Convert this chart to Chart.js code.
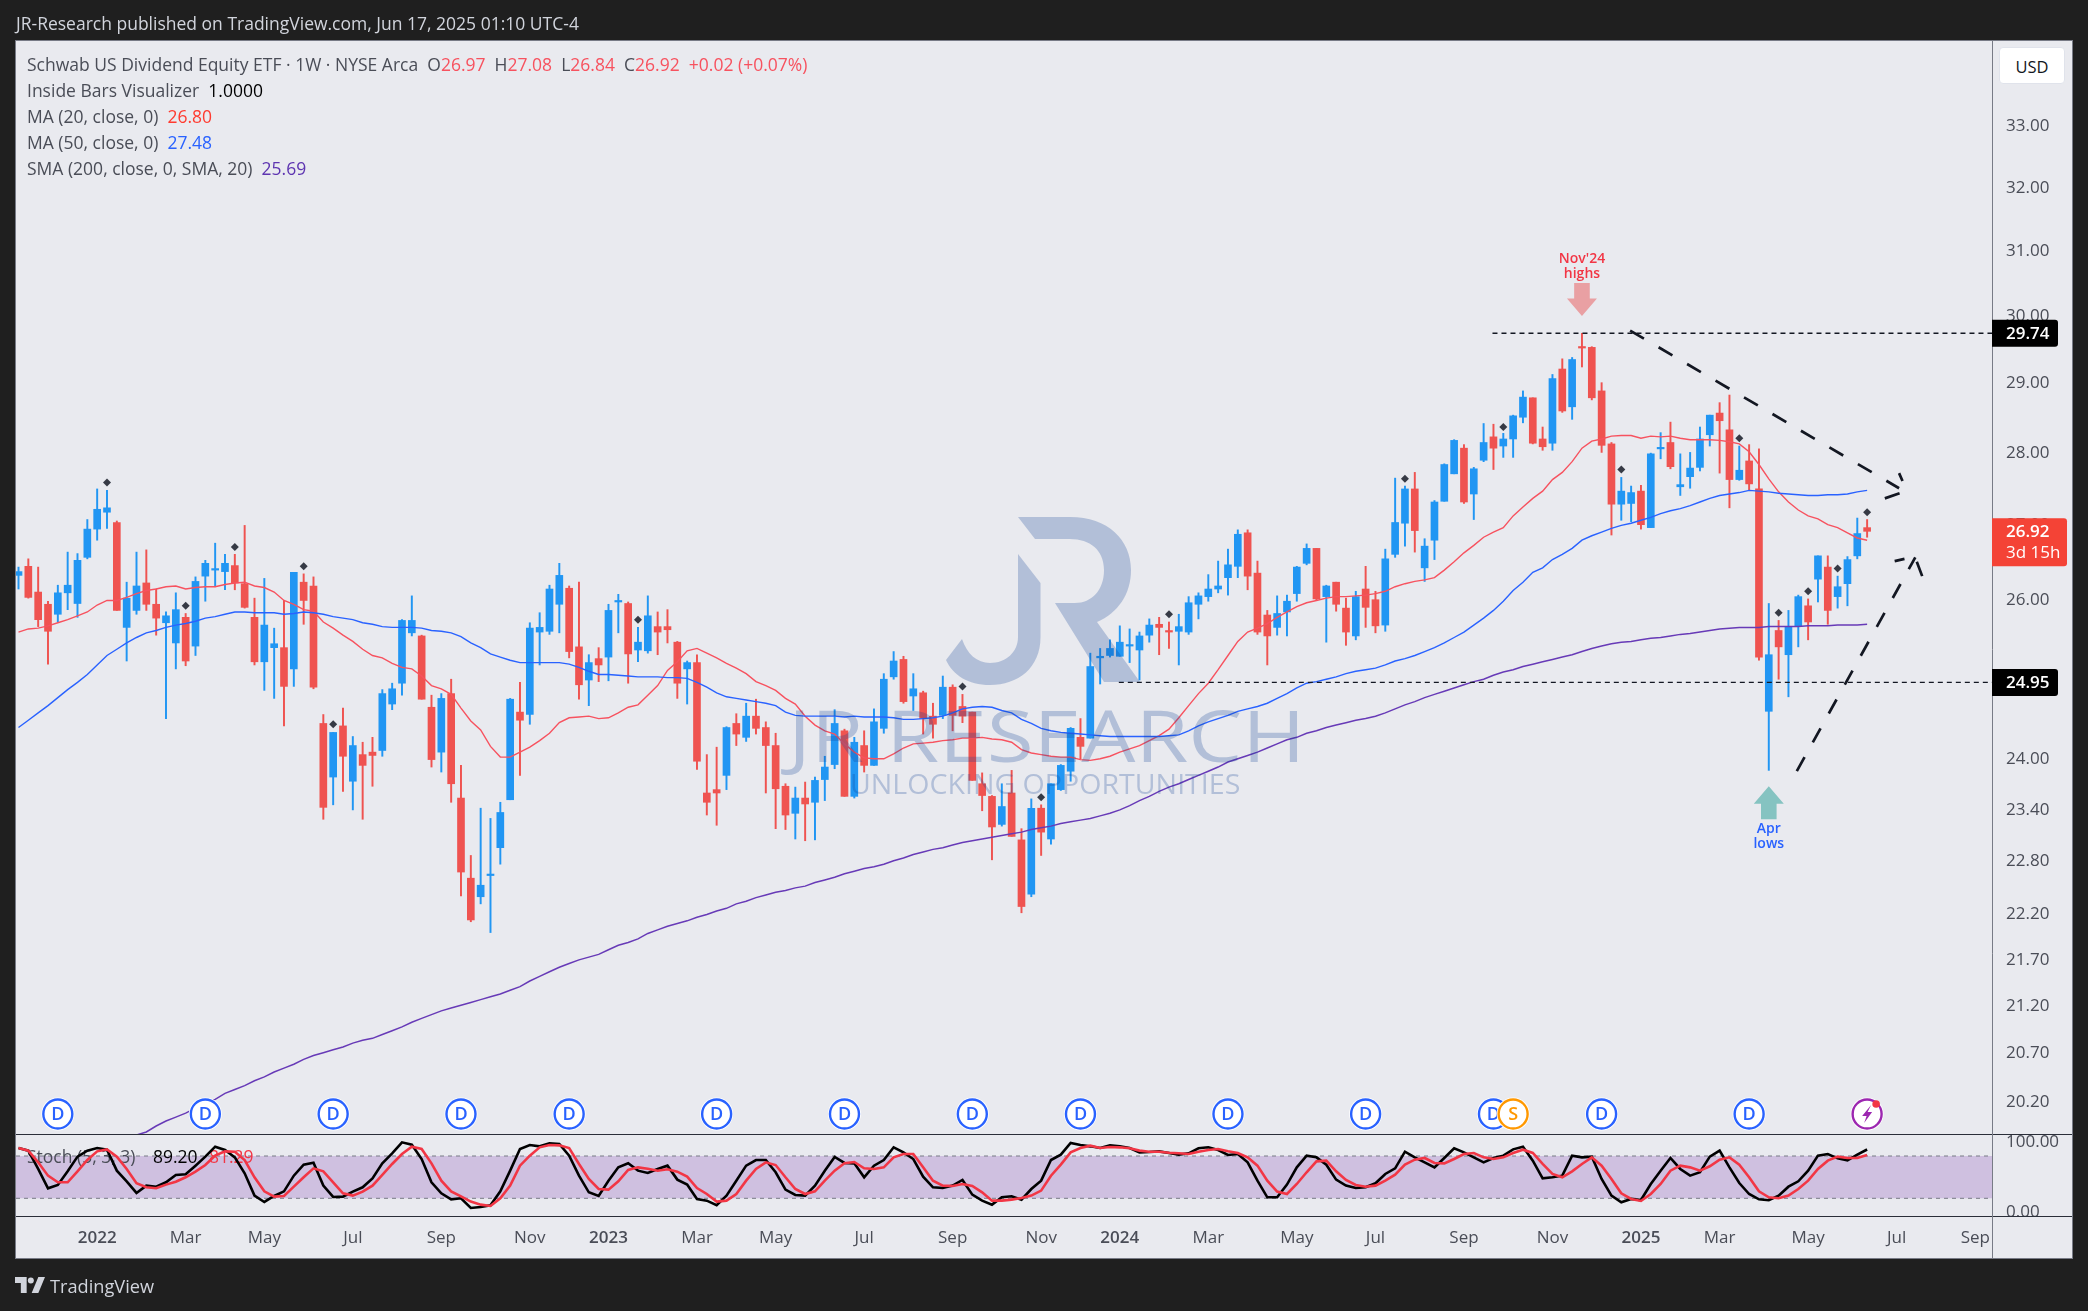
<!DOCTYPE html>
<html>
<head>
<meta charset="utf-8">
<title>SCHD weekly</title>
<script src="https://cdn.jsdelivr.net/npm/chart.js@4"></script>
<style>
  html, body { margin: 0; padding: 0; background: #1f1f1f; }
  body { width: 2088px; height: 1311px; position: relative; overflow: hidden; font-family: "Open Sans", sans-serif; }
  canvas { position: absolute; left: 0; top: 0; }
  .txt { position: absolute; white-space: pre; line-height: 20px; font-size: 17.5px; }
  .leg { color: #4a4d57; left: 27px; }
  .red { color: #f7525f; }
  #publisher { left: 16px; top: 13px; color: #d1d4dc; }
  #brand { left: 50px; top: 1276px; color: #d1d4dc; font-size: 18.2px; }
  #logo { position: absolute; left: 15px; top: 1277px; }
  #usd { position: absolute; left: 1999px; top: 47px; width: 66px; height: 37px; line-height: 37px; background: #fff; border: 1px solid #e0e3eb; border-radius: 4px; box-sizing: border-box; text-align: center; color: #131722; font-size: 16.5px; }
</style>
</head>
<body>
<canvas id="chart" width="2088" height="1311"></canvas>
<div class="txt" id="publisher">JR-Research published on TradingView.com, Jun 17, 2025 01:10 UTC-4</div>
<div class="txt leg" style="top:54px">Schwab US Dividend Equity ETF · 1W · NYSE Arca  O<span class="red">26.97</span>  H<span class="red">27.08</span>  L<span class="red">26.84</span>  C<span class="red">26.92</span>  <span class="red">+0.02 (+0.07%)</span></div>
<div class="txt leg" style="top:80px">Inside Bars Visualizer  <span style="color:#000">1.0000</span></div>
<div class="txt leg" style="top:106px">MA (20, close, 0)  <span style="color:#ff3b30">26.80</span></div>
<div class="txt leg" style="top:132px">MA (50, close, 0)  <span style="color:#2962ff">27.48</span></div>
<div class="txt leg" style="top:158px">SMA (200, close, 0, SMA, 20)  <span style="color:#5e35b1">25.69</span></div>
<div id="usd">USD</div>
<svg id="logo" width="30" height="16" viewBox="0 0 36 19"><path fill="#d1d4dc" d="M0 0h14v19H7V7H0z"/><circle cx="19" cy="4" r="3.6" fill="#d1d4dc"/><path fill="#d1d4dc" d="M28 0h8l-8 19h-8z"/></svg>
<div class="txt" id="brand">TradingView</div>

<script>
// weekly bars, index 0 = 8 Nov 2021, last one = 16 Jun 2025
const opens = [
  26.33,26.45,26.11,25.95,25.82,26.10,25.96,26.57,26.95,27.18,
  27.04,25.65,25.87,26.23,25.95,25.71,25.45,25.78,25.41,26.32,
  26.40,26.38,26.46,26.22,25.78,25.21,25.39,25.39,25.12,26.24,
  26.19,24.44,23.79,24.41,23.74,24.06,24.09,24.11,24.68,24.94,
  25.58,25.54,24.64,24.09,24.81,23.54,22.61,22.40,22.64,22.96,
  23.52,24.58,24.55,25.59,25.60,25.95,26.16,25.40,24.98,25.25,
  25.27,25.98,25.96,25.36,25.35,25.66,25.66,25.46,25.12,25.20,
  23.60,23.64,23.81,24.44,24.27,24.53,24.39,24.17,23.68,23.36,
  23.54,23.49,23.76,23.94,24.35,23.56,24.17,23.93,24.38,25.02,
  25.24,24.78,24.82,24.53,24.54,24.89,24.65,24.58,23.71,23.56,
  23.23,23.60,23.05,22.43,23.42,23.06,23.64,23.86,24.27,24.26,
  25.26,25.29,25.28,25.41,25.36,25.55,25.69,25.60,25.60,25.59,
  25.95,26.05,26.15,26.30,26.45,26.90,26.36,25.81,25.65,25.85,
  26.09,26.49,26.69,26.05,26.24,25.90,25.54,26.15,26.01,25.68,
  26.61,27.03,27.50,26.43,26.80,27.33,27.71,28.07,27.43,27.90,
  28.23,28.10,28.20,28.51,28.79,28.20,28.14,29.21,28.66,29.54,
  29.53,28.89,28.13,27.29,27.30,27.47,26.97,28.06,28.15,27.53,
  27.67,27.80,28.26,28.57,28.33,27.63,27.89,27.50,24.59,25.61,
  25.30,25.67,25.93,26.28,26.44,26.05,26.22,26.59,26.97
];
const closes = [
  26.38,26.04,25.75,25.60,26.10,26.20,26.53,26.95,27.22,27.24,
  25.87,26.03,26.19,25.95,25.77,25.80,25.88,25.22,26.25,26.49,
  26.41,26.49,26.23,25.91,25.21,25.68,25.44,24.90,26.37,26.00,
  24.89,23.43,24.33,24.04,24.17,23.93,24.05,24.81,24.87,25.74,
  25.74,24.74,24.00,24.75,23.71,22.68,22.14,22.53,22.65,23.37,
  24.74,24.48,25.64,25.65,26.15,26.33,25.34,24.92,25.20,25.17,
  25.87,25.99,25.31,25.46,25.80,25.59,25.62,24.94,25.20,23.98,
  23.49,23.60,24.39,24.31,24.53,24.38,24.17,23.65,23.34,23.54,
  23.47,23.75,23.91,24.44,23.56,24.21,23.93,24.46,24.99,25.22,
  24.71,24.87,24.50,24.43,24.89,24.54,24.53,23.75,23.57,23.20,
  23.44,23.09,22.29,23.42,23.14,23.71,23.93,24.38,24.16,25.15,
  25.28,25.38,25.46,25.42,25.54,25.68,25.65,25.59,25.66,25.97,
  26.06,26.15,26.19,26.47,26.88,26.32,25.59,25.54,25.83,25.99,
  26.44,26.69,26.02,26.19,25.95,25.59,26.05,25.91,25.67,26.55,
  27.04,27.50,26.93,26.72,27.32,27.84,28.18,27.32,27.78,28.15,
  28.07,28.20,28.53,28.80,28.14,28.09,29.07,28.60,29.35,29.52,
  28.79,28.11,27.29,27.47,27.45,27.01,27.99,28.07,27.81,27.56,
  27.79,28.20,28.54,28.46,27.63,27.76,27.57,25.27,25.30,25.40,
  25.66,26.05,25.72,26.59,25.87,26.18,26.54,26.89,26.92
];
const highs = [
  26.44,26.55,26.44,25.99,26.20,26.64,26.62,27.08,27.50,27.48,
  27.06,26.24,26.64,26.67,26.15,25.85,26.10,25.83,26.31,26.53,
  26.76,26.61,26.61,27.00,26.03,26.29,25.64,26.00,26.37,26.35,
  26.31,24.55,24.33,24.63,24.28,24.21,24.27,24.86,24.94,25.75,
  26.06,25.55,24.79,24.81,24.99,23.93,22.87,23.42,23.30,23.49,
  24.75,24.95,25.71,25.84,26.20,26.49,26.19,26.24,25.30,25.39,
  25.95,26.08,25.98,25.65,26.06,25.85,25.88,25.47,25.22,25.30,
  24.06,24.15,24.40,24.56,24.69,24.74,24.46,24.32,23.71,23.67,
  23.73,23.79,24.04,24.61,24.37,24.27,24.35,24.62,25.06,25.34,
  25.28,25.06,24.84,24.69,25.03,24.92,24.80,24.58,23.84,23.57,
  23.71,23.87,23.18,23.53,23.46,23.71,23.94,24.39,24.50,25.32,
  25.38,25.49,25.67,25.63,25.59,25.76,25.78,25.72,25.82,26.05,
  26.10,26.34,26.52,26.68,26.94,26.94,26.52,25.87,26.06,26.07,
  26.45,26.75,26.69,26.20,26.24,26.03,26.12,26.45,26.12,26.68,
  27.65,27.54,27.73,26.82,27.34,27.85,28.19,28.12,27.80,28.42,
  28.41,28.28,28.54,28.89,28.79,28.37,29.13,29.36,29.38,29.74,
  29.54,29.01,28.15,27.66,27.54,27.55,28.00,28.29,28.44,27.99,
  28.01,28.37,28.54,28.72,28.83,28.10,28.12,28.06,25.96,25.74,
  25.87,26.07,26.02,26.59,26.59,26.32,26.58,27.10,27.08
];
const lows = [
  26.15,26.03,25.66,25.18,25.72,25.88,25.78,26.55,26.80,26.96,
  25.87,25.22,25.82,25.87,25.55,24.50,25.12,25.16,25.29,25.99,
  26.18,26.14,26.14,25.90,25.17,24.85,24.75,24.41,24.90,25.69,
  24.87,23.29,23.46,23.62,23.40,23.29,23.68,24.04,24.61,24.79,
  25.54,24.74,23.91,23.85,23.49,22.41,22.12,22.32,22.00,22.77,
  23.52,23.81,24.43,25.17,25.56,25.58,25.26,24.74,24.66,24.96,
  24.97,25.58,24.94,25.21,25.32,25.30,25.45,24.75,24.68,23.88,
  23.34,23.22,23.64,24.17,24.22,24.31,23.60,23.18,23.17,23.06,
  23.04,23.05,23.51,23.89,23.56,23.54,23.85,23.93,24.32,24.99,
  24.69,24.60,24.31,24.26,24.50,24.35,24.45,23.75,23.39,22.82,
  23.21,23.09,22.22,22.40,22.87,23.00,23.63,23.74,24.01,24.26,
  24.93,25.27,25.28,25.20,24.98,25.46,25.30,25.38,25.17,25.56,
  25.76,25.99,26.10,26.07,26.30,26.14,25.56,25.17,25.55,25.54,
  25.99,26.47,26.01,25.46,25.86,25.42,25.49,25.65,25.58,25.60,
  26.57,26.72,26.64,26.25,26.54,27.33,27.71,27.30,27.08,27.88,
  27.77,27.94,27.94,28.43,28.13,28.04,28.04,28.58,28.48,29.24,
  28.76,28.01,26.87,27.07,27.05,26.95,26.97,27.92,27.78,27.41,
  27.51,27.75,28.10,27.72,27.24,27.62,27.48,25.23,23.87,24.99,
  24.77,25.40,25.49,25.98,25.69,25.90,25.93,26.55,26.84
];
const ma20 = [
  25.59,25.63,25.64,25.67,25.71,25.75,25.80,25.85,25.94,26.00,
  26.00,26.04,26.09,26.13,26.15,26.18,26.19,26.15,26.17,26.18,
  26.18,26.21,26.23,26.24,26.19,26.17,26.11,26.00,25.95,25.88,
  25.86,25.72,25.64,25.55,25.47,25.37,25.29,25.26,25.19,25.14,
  25.12,25.03,24.91,24.87,24.80,24.63,24.47,24.36,24.16,24.03,
  24.03,24.09,24.15,24.23,24.32,24.45,24.51,24.52,24.53,24.50,
  24.51,24.57,24.64,24.67,24.79,24.91,25.10,25.21,25.35,25.38,
  25.32,25.26,25.19,25.13,25.06,24.96,24.91,24.85,24.75,24.68,
  24.53,24.42,24.35,24.31,24.19,24.09,24.02,24.01,24.01,24.07,
  24.14,24.19,24.20,24.21,24.23,24.24,24.26,24.26,24.27,24.25,
  24.24,24.21,24.12,24.08,24.06,24.04,24.03,24.03,24.00,23.99,
  24.01,24.04,24.09,24.13,24.17,24.23,24.29,24.37,24.51,24.66,
  24.81,24.94,25.11,25.29,25.47,25.59,25.64,25.70,25.78,25.85,
  25.92,25.97,26.00,26.03,26.05,26.05,26.06,26.07,26.09,26.12,
  26.18,26.22,26.25,26.27,26.30,26.40,26.51,26.63,26.73,26.84,
  26.91,26.97,27.13,27.25,27.37,27.47,27.63,27.73,27.88,28.07,
  28.17,28.20,28.24,28.25,28.25,28.21,28.24,28.23,28.24,28.21,
  28.19,28.19,28.19,28.18,28.16,28.13,28.02,27.84,27.64,27.46,
  27.32,27.21,27.13,27.09,27.01,26.97,26.90,26.83,26.80
];
const ma50 = [
  24.39,24.48,24.57,24.66,24.76,24.86,24.95,25.05,25.17,25.29,
  25.37,25.45,25.52,25.58,25.61,25.65,25.68,25.70,25.73,25.77,
  25.79,25.82,25.85,25.85,25.84,25.84,25.84,25.82,25.83,25.85,
  25.84,25.82,25.79,25.77,25.75,25.71,25.69,25.66,25.65,25.65,
  25.65,25.64,25.61,25.60,25.58,25.53,25.45,25.39,25.31,25.27,
  25.23,25.20,25.20,25.20,25.20,25.20,25.18,25.14,25.09,25.05,
  25.05,25.04,25.03,25.02,25.02,25.02,25.01,25.01,25.00,24.95,
  24.89,24.82,24.77,24.75,24.73,24.71,24.69,24.66,24.58,24.54,
  24.53,24.53,24.53,24.53,24.52,24.53,24.52,24.52,24.52,24.51,
  24.49,24.49,24.50,24.51,24.53,24.57,24.62,24.64,24.65,24.64,
  24.60,24.57,24.49,24.44,24.38,24.35,24.33,24.32,24.31,24.30,
  24.29,24.28,24.28,24.28,24.28,24.28,24.28,24.29,24.30,24.35,
  24.41,24.46,24.50,24.54,24.59,24.62,24.65,24.69,24.75,24.81,
  24.88,24.94,24.96,24.99,25.02,25.06,25.09,25.11,25.13,25.17,
  25.22,25.25,25.29,25.34,25.39,25.45,25.52,25.59,25.68,25.77,
  25.87,25.99,26.13,26.24,26.37,26.43,26.54,26.61,26.69,26.80,
  26.86,26.91,26.96,27.00,27.03,27.07,27.11,27.16,27.20,27.23,
  27.27,27.32,27.37,27.41,27.43,27.45,27.48,27.47,27.46,27.44,
  27.43,27.42,27.41,27.41,27.42,27.42,27.43,27.46,27.48
];
// the 200 line comes into the pane at bar 12
const sma200Start = 12;
const sma200 = [
  19.87,19.90,19.96,20.01,20.05,20.09,20.14,20.18,
  20.23,20.29,20.33,20.37,20.42,20.46,20.51,20.55,20.59,20.64,
  20.68,20.71,20.74,20.77,20.81,20.84,20.86,20.90,20.94,20.98,
  21.03,21.07,21.11,21.15,21.18,21.21,21.24,21.27,21.30,21.33,
  21.37,21.41,21.47,21.52,21.57,21.62,21.66,21.70,21.73,21.76,
  21.81,21.86,21.89,21.93,21.99,22.03,22.07,22.10,22.13,22.17,
  22.20,22.24,22.27,22.32,22.35,22.39,22.42,22.45,22.47,22.50,
  22.52,22.56,22.59,22.62,22.66,22.69,22.72,22.74,22.77,22.81,
  22.84,22.88,22.91,22.94,22.96,22.99,23.02,23.04,23.06,23.08,
  23.10,23.12,23.14,23.17,23.19,23.21,23.24,23.26,23.28,23.30,
  23.33,23.36,23.40,23.45,23.51,23.56,23.62,23.67,23.71,23.76,
  23.81,23.86,23.91,23.97,24.01,24.05,24.09,24.14,24.19,24.24,
  24.27,24.32,24.35,24.39,24.42,24.45,24.48,24.50,24.53,24.57,
  24.62,24.67,24.71,24.76,24.80,24.84,24.88,24.92,24.96,24.99,
  25.04,25.08,25.11,25.15,25.18,25.21,25.24,25.27,25.30,25.34,
  25.38,25.41,25.44,25.46,25.47,25.49,25.51,25.52,25.54,25.56,
  25.57,25.59,25.61,25.63,25.64,25.65,25.65,25.65,25.66,25.66,
  25.66,25.66,25.67,25.67,25.67,25.68,25.68,25.68,25.69
];
const stochK = [
  91.3,87.6,61.6,34.2,38.9,58.3,79.1,87.6,91.3,89.0,
  59.2,44.1,27.6,38.0,36.5,42.7,53.1,54.0,66.3,79.1,
  93.2,88.5,78.1,55.4,23.8,14.8,23.3,29.9,52.1,67.7,
  70.6,38.0,21.9,22.4,29.5,35.6,48.3,69.6,83.8,99.4,
  96.1,75.7,42.7,27.1,18.6,20.0,6.3,7.7,10.1,29.9,
  59.2,89.9,95.6,93.7,98.0,97.0,80.5,52.1,28.5,23.3,
  45.0,63.9,69.6,59.2,55.9,61.6,66.3,46.5,39.4,19.1,
  16.7,10.1,23.8,45.0,66.3,74.3,74.3,56.9,32.3,24.7,
  23.8,38.0,59.2,78.6,70.1,69.6,49.8,66.3,74.3,92.3,
  85.2,75.7,50.7,35.6,34.6,38.0,46.0,25.2,16.7,11.0,
  21.4,22.8,18.1,33.2,45.0,74.3,81.9,98.4,95.6,93.7,
  91.3,95.1,93.7,91.3,85.2,85.7,86.6,84.3,81.9,83.8,
  90.9,92.3,88.5,81.4,82.8,71.0,45.0,21.4,21.4,39.4,
  63.9,80.5,78.1,67.7,46.5,38.0,34.6,35.6,41.3,54.5,
  62.5,86.1,78.1,71.0,63.9,77.2,90.9,85.2,78.1,71.0,
  77.2,80.5,89.4,93.2,73.4,48.3,49.8,52.1,80.5,78.1,
  79.1,47.4,23.8,14.3,19.1,17.6,40.3,59.2,77.2,61.6,
  52.1,56.9,79.1,87.6,63.9,41.7,26.1,18.6,17.2,23.8,
  36.5,44.1,59.2,80.5,82.8,76.7,73.9,81.9,89.2
];
const stochD = [
  91.3,87.6,71.0,52.1,42.7,42.7,58.3,74.3,86.6,89.4,
  79.1,61.6,41.3,35.6,34.2,39.4,43.6,49.8,57.8,67.2,
  80.5,86.6,86.1,74.3,49.8,29.9,22.4,23.3,36.5,49.8,
  62.5,58.3,42.7,27.1,23.8,29.5,38.0,53.1,68.7,82.8,
  93.2,89.9,69.6,45.0,29.9,22.8,15.3,11.0,9.1,20.0,
  38.0,66.3,80.5,92.3,95.6,95.1,91.3,68.7,47.4,33.2,
  32.3,44.1,60.2,63.9,62.0,59.2,61.1,57.8,50.7,34.6,
  26.1,15.3,16.7,26.1,45.0,61.6,71.0,67.2,49.8,33.2,
  26.1,29.9,45.0,59.2,69.6,71.5,62.5,61.6,63.9,78.1,
  82.8,82.8,63.9,45.0,38.0,37.5,40.3,37.5,28.5,16.7,
  16.7,18.1,20.5,23.8,30.9,52.1,67.7,85.2,91.3,94.6,
  91.3,92.8,92.3,90.9,87.6,86.1,86.1,84.7,83.8,82.8,
  86.1,88.5,89.9,86.6,84.3,78.1,66.3,45.0,29.5,26.1,
  40.3,56.9,72.4,73.4,58.3,46.0,38.9,36.5,38.0,45.0,
  53.5,67.7,74.8,77.2,70.1,69.6,75.7,82.8,84.3,78.1,
  75.7,78.1,84.3,89.0,84.3,68.7,54.5,49.8,58.3,68.7,
  78.1,66.3,47.4,27.1,19.1,16.2,26.1,40.3,59.2,66.3,
  63.9,59.2,65.4,74.8,78.1,67.7,49.8,29.9,21.4,20.0,
  23.8,33.2,45.0,61.6,73.4,79.1,77.2,77.2,81.29
];

// inside bar markers
const insideIdx = [9,17,22,29,32,63,96,104,117,141,151,163,175,179,182,185,188];
const insideVal = [27.59,25.93,26.71,26.45,24.43,25.75,24.90,23.55,25.82,27.64,28.37,27.77,28.21,25.84,26.12,26.42,27.18];

// drawn levels and trend lines (bar index, price)
const highLevelIdx = [149.9, 200.7];
const highLevelVal = [29.74, 29.74];
const lowLevelIdx = [111.9, 200.7];
const lowLevelVal = [24.95, 24.95];
const trendDownIdx = [163.9, 191.25];
const trendDownVal = [29.78, 27.51];
const trendUpIdx = [180.85, 192.9];
const trendUpVal = [23.86, 26.57];
const arrowBitsIdx = [191.25,191.6,null,189.8,191.3,null,190.8,191.8,null,193.05,193.6];
const arrowBitsVal = [27.72,27.61,null,27.37,27.44,null,26.52,26.55,null,26.51,26.32];

// axes
const priceTicks = [33,32,31,30,29,28,27,26,25,24,23.4,22.8,22.2,21.7,21.2,20.7,20.2];
const stochTicks = [100, 0];
const stochBandIdx = [-0.254, 200.7];
const stochUpper = [80, 80];
const stochLower = [20, 20];
const timeTickIdx = [8,17,25,34,43,52,60,69,77,86,95,104,112,121,130,138,147,156,165,173,182,191,199];
const timeTickLabels = ['2022','Mar','May','Jul','Sep','Nov','2023','Mar','May','Jul','Sep','Nov','2024','Mar','May','Jul','Sep','Nov','2025','Mar','May','Jul','Sep'];

// event bubbles
const dividendIdx = [4,19,32,45,56,71,84,97,108,123,137,150,161,176];
const splitIdx = [152];
const earningsIdx = [188];

const BG = '#e9eaef';
const BLUE = '#2196f3';
const RED = '#ef5350';
const UI_FONT = '"Open Sans", sans-serif';

const barIdx = opens.map((_, i) => i);
const candleColors = opens.map((o, i) => (closes[i] >= o ? BLUE : RED));
const pts = (xs, ys) => xs.map((x, i) => ({ x: x, y: ys[i] }));

function lineSet(data, color, width, order, extra) {
  return Object.assign({
    type: 'line', data: data, borderColor: color, borderWidth: width, pointRadius: 0,
    tension: 0, order: order, xAxisID: 'x', yAxisID: 'y'
  }, extra || {});
}

const datasets = [
  // stochastic band first, so its fill finds the next dataset
  lineSet(pts(stochBandIdx, stochUpper), '#787b86', 1, 60, { yAxisID: 'y2', borderDash: [4, 4], fill: '+1', backgroundColor: '#cfc0e0' }),
  lineSet(pts(stochBandIdx, stochLower), '#787b86', 1, 59, { yAxisID: 'y2', borderDash: [4, 4] }),
  lineSet(pts(barIdx, stochK), '#000000', 2.6, 2, { yAxisID: 'y2' }),
  lineSet(pts(barIdx, stochD), '#f23645', 2.6, 1, { yAxisID: 'y2' }),
  {
    type: 'bar', label: 'wicks', order: 40, grouped: false, barThickness: 1.3, minBarLength: 1,
    data: barIdx.map(i => ({ x: i, y: [lows[i], highs[i]] })),
    backgroundColor: candleColors, borderWidth: 0, xAxisID: 'x', yAxisID: 'y'
  },
  {
    type: 'bar', label: 'bodies', order: 39, grouped: false, barThickness: 7, minBarLength: 1.5,
    data: barIdx.map(i => ({ x: i, y: [opens[i], closes[i]] })),
    backgroundColor: candleColors, borderWidth: 0, xAxisID: 'x', yAxisID: 'y'
  },
  lineSet(pts(barIdx, ma20), '#f7525f', 1.4, 12),
  lineSet(pts(barIdx, ma50), '#2962ff', 1.4, 11),
  lineSet(pts(sma200.map((_, i) => i + sma200Start), sma200), '#673ab7', 1.5, 10),
  {
    type: 'scatter', data: pts(insideIdx, insideVal), pointStyle: 'rectRot', pointRadius: 4,
    backgroundColor: '#363a45', borderWidth: 0, order: 8, xAxisID: 'x', yAxisID: 'y'
  },
  lineSet(pts(highLevelIdx, highLevelVal), '#131722', 1.3, 7, { borderDash: [5, 4] }),
  lineSet(pts(lowLevelIdx, lowLevelVal), '#131722', 1.3, 7, { borderDash: [5, 4] }),
  lineSet(pts(trendDownIdx, trendDownVal), '#131722', 2.7, 6, { borderDash: [16, 17] }),
  lineSet(pts(trendUpIdx, trendUpVal), '#131722', 2.7, 6, { borderDash: [16, 17] }),
  lineSet(pts(arrowBitsIdx, arrowBitsVal), '#131722', 2.7, 6, { spanGaps: false })
];

function blockArrow(ctx, x, tipY, dir, color) {
  // dir 1 = tip points down, -1 = tip points up
  ctx.fillStyle = color;
  ctx.beginPath();
  ctx.moveTo(x, tipY);
  ctx.lineTo(x - 15, tipY - dir * 17.5);
  ctx.lineTo(x - 7.8, tipY - dir * 17.5);
  ctx.lineTo(x - 7.8, tipY - dir * 33);
  ctx.lineTo(x + 7.8, tipY - dir * 33);
  ctx.lineTo(x + 7.8, tipY - dir * 17.5);
  ctx.lineTo(x + 15, tipY - dir * 17.5);
  ctx.closePath();
  ctx.fill();
}

function bubble(ctx, x, y, ring, letter) {
  ctx.beginPath();
  ctx.arc(x, y, 16.5, 0, Math.PI * 2);
  ctx.fillStyle = '#ffffff';
  ctx.fill();
  ctx.beginPath();
  ctx.arc(x, y, 14.5, 0, Math.PI * 2);
  ctx.strokeStyle = ring;
  ctx.lineWidth = 2.4;
  ctx.stroke();
  if (letter) {
    ctx.fillStyle = ring;
    ctx.font = '600 18px ' + UI_FONT;
    ctx.textAlign = 'center';
    ctx.textBaseline = 'middle';
    ctx.fillText(letter, x, y + 0.5);
  }
}

// horizontally stretched text, the watermark face is wider than what is installed
function wideText(ctx, text, x, y, sx) {
  ctx.save();
  ctx.translate(x, y);
  ctx.scale(sx, 1);
  ctx.fillText(text, 0, 0);
  ctx.restore();
}

function watermark(ctx) {
  ctx.save();
  ctx.fillStyle = 'rgba(17,62,147,0.25)';
  // R
  ctx.beginPath();
  ctx.moveTo(1018, 517);
  ctx.lineTo(1070, 517);
  ctx.bezierCurveTo(1108, 517, 1131, 540, 1131, 570);
  ctx.bezierCurveTo(1131, 594, 1118, 613, 1097, 622);
  ctx.lineTo(1140, 682);
  ctx.lineTo(1104, 682);
  ctx.lineTo(1055, 603);
  ctx.lineTo(1075, 603);
  ctx.bezierCurveTo(1092, 603, 1104, 590, 1104, 570);
  ctx.bezierCurveTo(1104, 550, 1090, 539, 1070, 539);
  ctx.lineTo(1035, 539);
  ctx.closePath();
  ctx.fill();
  // J
  ctx.beginPath();
  ctx.moveTo(1018, 554);
  ctx.lineTo(1040.5, 583);
  ctx.lineTo(1040.5, 637);
  ctx.bezierCurveTo(1040.5, 668, 1018, 685, 990, 685);
  ctx.bezierCurveTo(968, 685, 953, 675, 946, 660);
  ctx.lineTo(962, 639);
  ctx.bezierCurveTo(967, 654, 977, 663, 990, 663);
  ctx.bezierCurveTo(1006, 663, 1018, 652, 1018, 637);
  ctx.closePath();
  ctx.fill();
  ctx.textAlign = 'left';
  ctx.textBaseline = 'alphabetic';
  ctx.font = '500 72px ' + UI_FONT;
  wideText(ctx, 'JR RESEARCH', 788, 762, 1.19);
  ctx.font = '400 27px ' + UI_FONT;
  wideText(ctx, 'UNLOCKING OPPORTUNITIES', 850, 794, 1.058);
  ctx.restore();
}

function axisBox(ctx, y, right, h0, h1, color) {
  ctx.fillStyle = color;
  ctx.beginPath();
  ctx.roundRect(1992, y - h0, right - 1992, h0 + h1, [0, 3, 3, 0]);
  ctx.fill();
}

const chartDecor = {
  id: 'chartDecor',
  beforeDraw(chart) {
    const ctx = chart.ctx;
    ctx.save();
    ctx.fillStyle = BG;
    ctx.fillRect(16, 41, 2056, 1217);
    ctx.restore();
  },
  afterDatasetDraw(chart, args) {
    // stochastic legend sits on the band but under the two lines
    if (args.index !== 1) return;
    const ctx = chart.ctx;
    ctx.save();
    ctx.textBaseline = 'middle';
    ctx.textAlign = 'left';
    ctx.font = '17.5px ' + UI_FONT;
    ctx.fillStyle = '#4a4d57';
    ctx.fillText('Stoch (5, 3, 3)', 27, 1158);
    ctx.fillStyle = '#000000';
    ctx.fillText('89.20', 153, 1158);
    ctx.fillStyle = '#f23645';
    ctx.fillText('81.29', 209, 1158);
    ctx.restore();
  },
  afterDatasetsDraw(chart) {
    const ctx = chart.ctx;
    const x = chart.scales.x;
    const y = chart.scales.y;
    watermark(ctx);
    ctx.save();

    // Nov'24 / Apr callouts
    const novX = x.getPixelForValue(159);
    const novTip = y.getPixelForValue(30);
    blockArrow(ctx, novX, novTip, 1, '#e9a0a3');
    ctx.fillStyle = '#f23645';
    ctx.font = '600 14px ' + UI_FONT;
    ctx.textAlign = 'center';
    ctx.textBaseline = 'middle';
    ctx.fillText("Nov'24", novX, novTip - 57);
    ctx.fillText('highs', novX, novTip - 42);

    const aprX = x.getPixelForValue(178);
    const aprTip = y.getPixelForValue(23.68);
    blockArrow(ctx, aprX, aprTip, -1, '#85c3c1');
    ctx.fillStyle = '#2962ff';
    ctx.fillText('Apr', aprX, aprTip + 43);
    ctx.fillText('lows', aprX, aprTip + 58);

    // bubbles sit just above the pane edge
    const by = y.bottom - 20;
    dividendIdx.forEach(i => bubble(ctx, x.getPixelForValue(i), by, '#2962ff', 'D'));
    splitIdx.forEach(i => bubble(ctx, x.getPixelForValue(i), by, '#ff9800', 'S'));
    earningsIdx.forEach(i => {
      const ex = x.getPixelForValue(i);
      bubble(ctx, ex, by, '#9c27b0', '');
      ctx.fillStyle = '#9c27b0';
      ctx.beginPath();
      ctx.moveTo(ex + 4, by - 9);
      ctx.lineTo(ex - 5, by + 2);
      ctx.lineTo(ex - 0.5, by + 2);
      ctx.lineTo(ex - 3, by + 9);
      ctx.lineTo(ex + 5, by - 2);
      ctx.lineTo(ex + 0.5, by - 2);
      ctx.closePath();
      ctx.fill();
      ctx.fillStyle = '#f23645';
      ctx.beginPath();
      ctx.arc(ex + 9, by - 10, 3.8, 0, Math.PI * 2);
      ctx.fill();
    });
    ctx.restore();
  },
  afterDraw(chart) {
    const ctx = chart.ctx;
    const y = chart.scales.y;
    ctx.save();
    // the 0.00 label is cut by the pane edge
    ctx.fillStyle = BG;
    ctx.fillRect(1993, 1217, 78, 10);

    ctx.strokeStyle = '#2a2e39';
    ctx.lineWidth = 1;
    [1134.5, 1216.5].forEach(py => {
      ctx.beginPath();
      ctx.moveTo(16, py);
      ctx.lineTo(2072, py);
      ctx.stroke();
    });
    ctx.strokeStyle = '#787b86';
    ctx.beginPath();
    ctx.moveTo(1992.5, 41);
    ctx.lineTo(1992.5, 1258);
    ctx.stroke();
    ctx.strokeRect(15.5, 40.5, 2057, 1218);

    ctx.textAlign = 'left';
    ctx.textBaseline = 'middle';
    ctx.font = '600 17px ' + UI_FONT;
    [29.74, 24.95].forEach(p => {
      const py = y.getPixelForValue(p);
      axisBox(ctx, py, 2058, 13.5, 13.5, '#000000');
      ctx.fillStyle = '#ffffff';
      ctx.fillText(p.toFixed(2), 2006, py + 0.5);
    });
    const lastY = y.getPixelForValue(closes[closes.length - 1]);
    axisBox(ctx, lastY, 2067, 13, 35, '#f44336');
    ctx.fillStyle = '#ffffff';
    ctx.fillText('26.92', 2006, lastY + 0.5);
    ctx.font = '17px ' + UI_FONT;
    ctx.fillText('3d 15h', 2006, lastY + 21.5);
    ctx.restore();
  }
};

function fixedWidth(s) { s.width = 80; }

new Chart(document.getElementById('chart'), {
  type: 'bar',
  data: { datasets: datasets },
  plugins: [chartDecor],
  options: {
    responsive: false,
    animation: false,
    events: [],
    layout: { padding: { left: 16, top: 41, right: 16, bottom: 53 } },
    plugins: { legend: { display: false }, tooltip: { enabled: false } },
    scales: {
      x: {
        type: 'linear',
        min: -0.254,
        max: 200.7,
        offset: false,
        grid: { display: false, drawTicks: false },
        border: { display: false },
        afterBuildTicks: s => { s.ticks = timeTickIdx.map(v => ({ value: v })); },
        afterFit: s => { s.height = 42; },
        ticks: {
          autoSkip: false,
          maxRotation: 0,
          padding: 12,
          color: '#4a4d57',
          font: c => ({ family: UI_FONT, size: 17, weight: /^\d/.test(timeTickLabels[timeTickIdx.indexOf(c.tick ? c.tick.value : -1)] || '') ? '600' : '400' }),
          callback: v => timeTickLabels[timeTickIdx.indexOf(v)]
        }
      },
      y: {
        type: 'logarithmic',
        position: 'right',
        stack: 'panes',
        stackWeight: 1093,
        min: 19.88,
        max: 34.45,
        grid: { display: false, drawTicks: false },
        border: { display: false },
        afterBuildTicks: s => { s.ticks = priceTicks.map(v => ({ value: v })); },
        afterFit: fixedWidth,
        ticks: {
          autoSkip: false,
          padding: 14,
          color: '#4a4d57',
          font: { family: UI_FONT, size: 17 },
          callback: v => v.toFixed(2)
        }
      },
      y2: {
        type: 'linear',
        position: 'right',
        stack: 'panes',
        stackWeight: 82,
        min: -5.1,
        max: 111.2,
        grid: { display: false, drawTicks: false },
        border: { display: false },
        afterBuildTicks: s => { s.ticks = stochTicks.map(v => ({ value: v })); },
        afterFit: fixedWidth,
        ticks: {
          autoSkip: false,
          padding: 14,
          color: '#4a4d57',
          font: { family: UI_FONT, size: 17 },
          callback: v => v.toFixed(2)
        }
      }
    }
  }
});
</script>
</body>
</html>
